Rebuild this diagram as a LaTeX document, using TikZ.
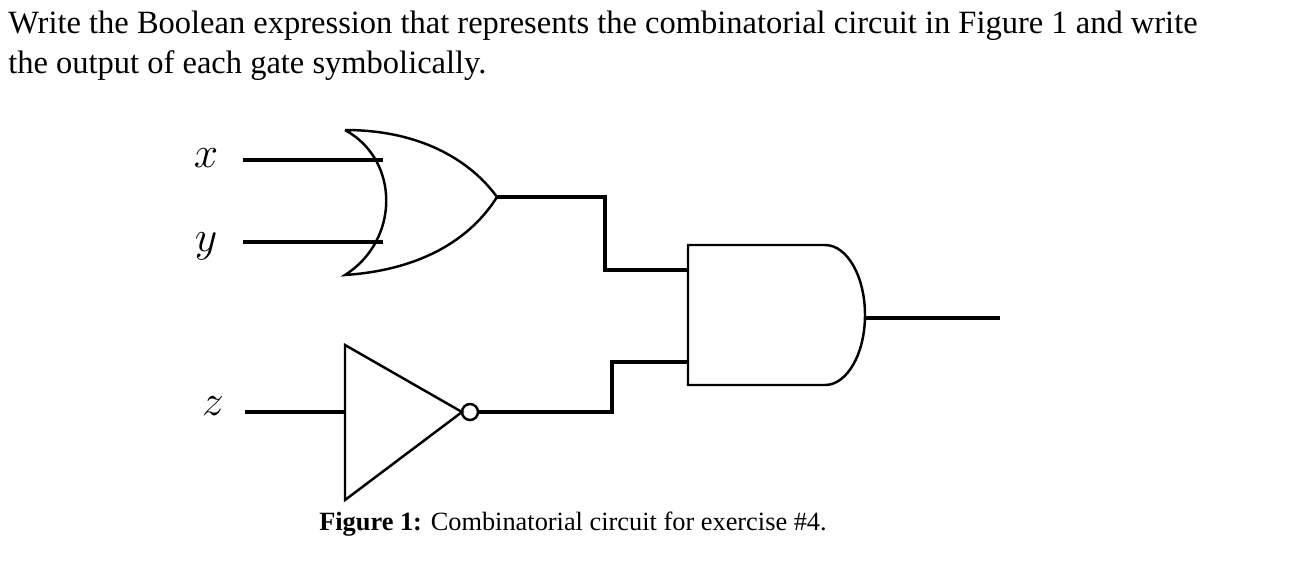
\documentclass[tikz,border=0pt]{standalone}
\usepackage{fontspec}
\setmainfont{Liberation Serif}
\begin{document}
\begin{tikzpicture}[x=0.02cm,y=-0.02cm,
  wire/.style={line width=2.2pt},
  gate/.style={line width=1.4pt},
  txt/.style={font=\fontsize{18.5}{22}\selectfont,anchor=west,inner sep=0},
  var/.style={font=\fontsize{25}{28}\selectfont,inner sep=0}]
\useasboundingbox (0,0) rectangle (1298,572);
\node[txt] (t1) at (8,26) {Write the Boolean expression that represents the combinatorial circuit in Figure 1 and write};
\node[txt] (t2) at (8,66) {the output of each gate symbolically.};
% OR gate
\coordinate (ortop) at (345,130);
\coordinate (orbot) at (345,275);
\coordinate (orout) at (497,197);
\draw[gate] (ortop) .. controls (400,160) and (400,240) .. (orbot)
  .. controls (420,270) and (470,240) .. (orout)
  .. controls (470,160) and (420,130) .. (ortop);
\node[var] (x) at (206,158) {$x$};
\node[var] (y) at (206,246) {$y$};
\node[var] (z) at (213,406) {$z$};
\coordinate (xin) at (383,160);
\coordinate (yin) at (383,242);
\draw[wire] (243,160) -- (xin);
\draw[wire] (243,242) -- (yin);
% NOT gate
\coordinate (n1) at (345,345);
\coordinate (n2) at (345,500);
\coordinate (n3) at (462,412);
\draw[gate] (n1) -- (n3) -- (n2) -- cycle;
\node[draw,circle,line width=1.4pt,minimum size=0.32cm,inner sep=0] (bub) at (470,412) {};
\coordinate (nin) at (345,412);
\draw[wire] (245,412) -- (nin);
% AND gate
\coordinate (a1) at (688,245);
\coordinate (a2) at (688,385);
\draw[gate] (825,245) -- (a1) -- (a2) -- (825,385) arc[start angle=-90,end angle=90,x radius=40,y radius=-70];
\coordinate (aout) at (865,318);
\draw[wire] (aout) -- (1000,318);
% wires
\draw[wire] (orout) -- (605,197) -- (605,270) -- (688,270);
\draw[wire] (bub.east) -- (612,412) -- (612,362) -- (688,362);
\node[font=\fontsize{15}{18}\selectfont,inner sep=0] (cap) at (573,524) {\textbf{Figure 1:} Combinatorial circuit for exercise \#4.};
\end{tikzpicture}
\end{document}
